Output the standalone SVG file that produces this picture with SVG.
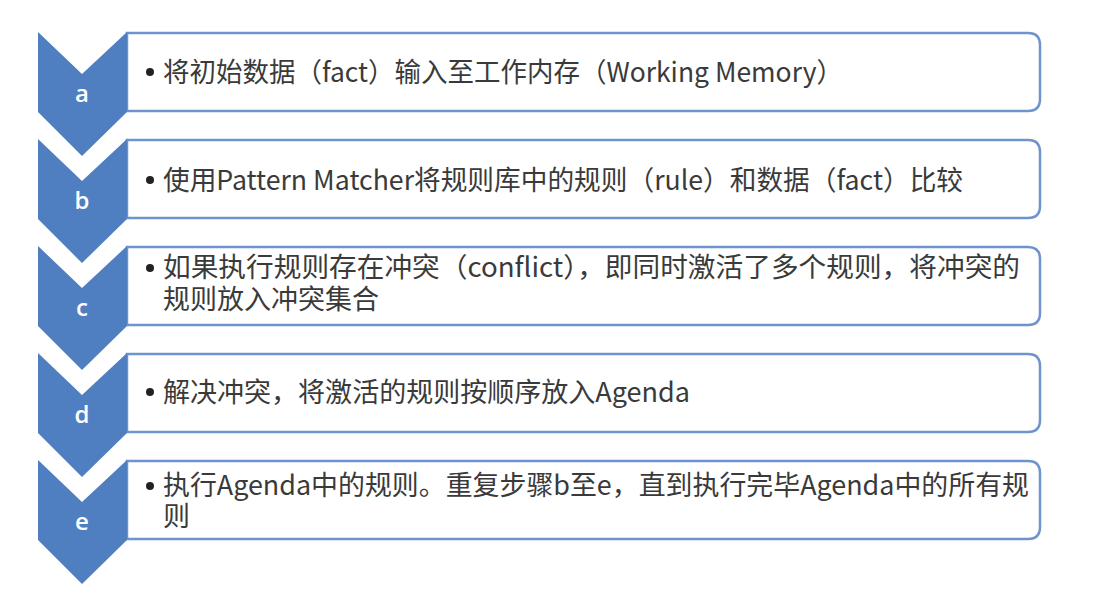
<svg xmlns="http://www.w3.org/2000/svg" width="1104" height="600" viewBox="0 0 1104 600">
<defs>
<style>
.chev{fill:#4f7fc0;}
.box{fill:#ffffff;stroke:#6f93cc;stroke-width:2.5;}
.lbl{font-family:"Open Sans","Noto Sans",sans-serif;font-weight:600;font-size:24px;fill:#ffffff;text-anchor:middle;}
.txt{font-family:"Noto Sans CJK SC","Noto Sans",sans-serif;font-size:27px;fill:#3a3a3a;}
.dot{fill:#222222;}
</style>
</defs>
<rect width="1104" height="600" fill="#ffffff"/>
<g id="connectors"></g>

<g id="step-a">
<path class="box" d="M127,33 H1028 Q1040,33 1040,45 V99 Q1040,111 1028,111 H127 Z"/>
<polygon class="chev" points="38,32 82,74 127,32 127,112 82,156 38,112"/>
<text class="lbl" x="82" y="102">a</text>
<circle class="dot" cx="150" cy="72" r="4"/>
<text class="txt" x="163" y="82" textLength="680" lengthAdjust="spacingAndGlyphs">将初始数据（fact）输入至工作内存（Working Memory）</text>
</g>

<g id="step-b">
<path class="box" d="M127,140 H1028 Q1040,140 1040,152 V206 Q1040,218 1028,218 H127 Z"/>
<polygon class="chev" points="38,139 82,181 127,139 127,219 82,263 38,219"/>
<text class="lbl" x="82" y="209">b</text>
<circle class="dot" cx="150" cy="180" r="4"/>
<text class="txt" x="163" y="190" textLength="800" lengthAdjust="spacingAndGlyphs">使用Pattern Matcher将规则库中的规则（rule）和数据（fact）比较</text>
</g>

<g id="step-c">
<path class="box" d="M127,247 H1028 Q1040,247 1040,259 V313 Q1040,325 1028,325 H127 Z"/>
<polygon class="chev" points="38,246 82,288 127,246 127,326 82,370 38,326"/>
<text class="lbl" x="82" y="316">c</text>
<circle class="dot" cx="150" cy="268" r="4"/>
<text class="txt" x="163" y="277" textLength="857" lengthAdjust="spacingAndGlyphs">如果执行规则存在冲突（conflict），即同时激活了多个规则，将冲突的</text>
<text class="txt" x="163" y="309">规则放入冲突集合</text>
</g>

<g id="step-d">
<path class="box" d="M127,354 H1028 Q1040,354 1040,366 V420 Q1040,432 1028,432 H127 Z"/>
<polygon class="chev" points="38,353 82,395 127,353 127,433 82,477 38,433"/>
<text class="lbl" x="82" y="423">d</text>
<circle class="dot" cx="150" cy="392" r="4"/>
<text class="txt" x="163" y="402" textLength="527" lengthAdjust="spacingAndGlyphs">解决冲突，将激活的规则按顺序放入Agenda</text>
</g>

<g id="step-e">
<path class="box" d="M127,461 H1028 Q1040,461 1040,473 V527 Q1040,539 1028,539 H127 Z"/>
<polygon class="chev" points="38,460 82,502 127,460 127,540 82,584 38,540"/>
<text class="lbl" x="82" y="530">e</text>
<circle class="dot" cx="150" cy="486" r="4"/>
<text class="txt" x="163" y="495" textLength="866" lengthAdjust="spacingAndGlyphs">执行Agenda中的规则。重复步骤b至e，直到执行完毕Agenda中的所有规</text>
<text class="txt" x="163" y="526">则</text>
</g>
</svg>
